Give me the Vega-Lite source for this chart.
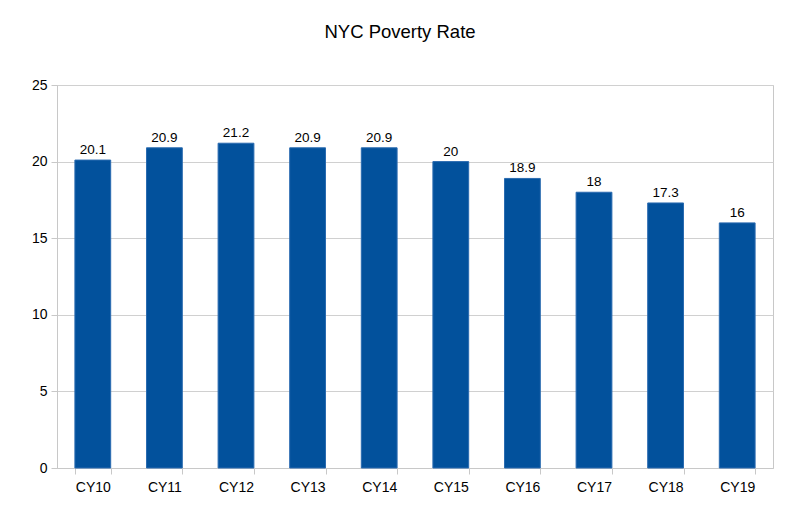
{
  "$schema": "https://vega.github.io/schema/vega-lite/v6.json",
  "autosize": "none",
  "width": 716,
  "height": 383,
  "padding": {"left": 57, "top": 85, "right": 27, "bottom": 49},
  "background": "white",
  "config": {
    "font": "Liberation Sans",
    "view": {"stroke": "#c8c8c8", "strokeWidth": 1}
  },
  "title": {
    "text": "NYC Poverty Rate",
    "fontSize": 18.5,
    "fontWeight": "normal",
    "color": "#000000",
    "frame": "group",
    "anchor": "middle",
    "dx": -15,
    "offset": 37
  },
  "data": {
    "values": [
      {"year": "CY10", "rate": 20.1},
      {"year": "CY11", "rate": 20.9},
      {"year": "CY12", "rate": 21.2},
      {"year": "CY13", "rate": 20.9},
      {"year": "CY14", "rate": 20.9},
      {"year": "CY15", "rate": 20},
      {"year": "CY16", "rate": 18.9},
      {"year": "CY17", "rate": 18},
      {"year": "CY18", "rate": 17.3},
      {"year": "CY19", "rate": 16}
    ]
  },
  "encoding": {
    "x": {
      "field": "year",
      "type": "nominal",
      "sort": null,
      "scale": {"paddingInner": 0.5, "paddingOuter": 0.25},
      "axis": {
        "title": null,
        "labelAngle": 0,
        "labelFontSize": 14,
        "labelColor": "#000000",
        "labelPadding": 6,
        "tickBand": "extent",
        "tickSize": 6,
        "tickColor": "#c8c8c8",
        "domainColor": "#c8c8c8",
        "grid": false
      }
    },
    "y": {
      "field": "rate",
      "type": "quantitative",
      "scale": {"domain": [0, 25], "nice": false},
      "axis": {
        "title": null,
        "values": [0, 5, 10, 15, 20, 25],
        "labelFontSize": 14,
        "labelColor": "#000000",
        "labelPadding": 4,
        "tickSize": 6,
        "tickColor": "#c8c8c8",
        "domainColor": "#c8c8c8",
        "gridColor": "#d0d0d0"
      }
    }
  },
  "layer": [
    {
      "mark": {"type": "bar", "color": "#02519c", "stroke": "#2a6bb0", "strokeWidth": 1}
    },
    {
      "mark": {"type": "text", "fontSize": 13.5, "color": "#000000", "baseline": "alphabetic", "dy": -6},
      "encoding": {"text": {"field": "rate", "type": "quantitative"}}
    }
  ]
}
